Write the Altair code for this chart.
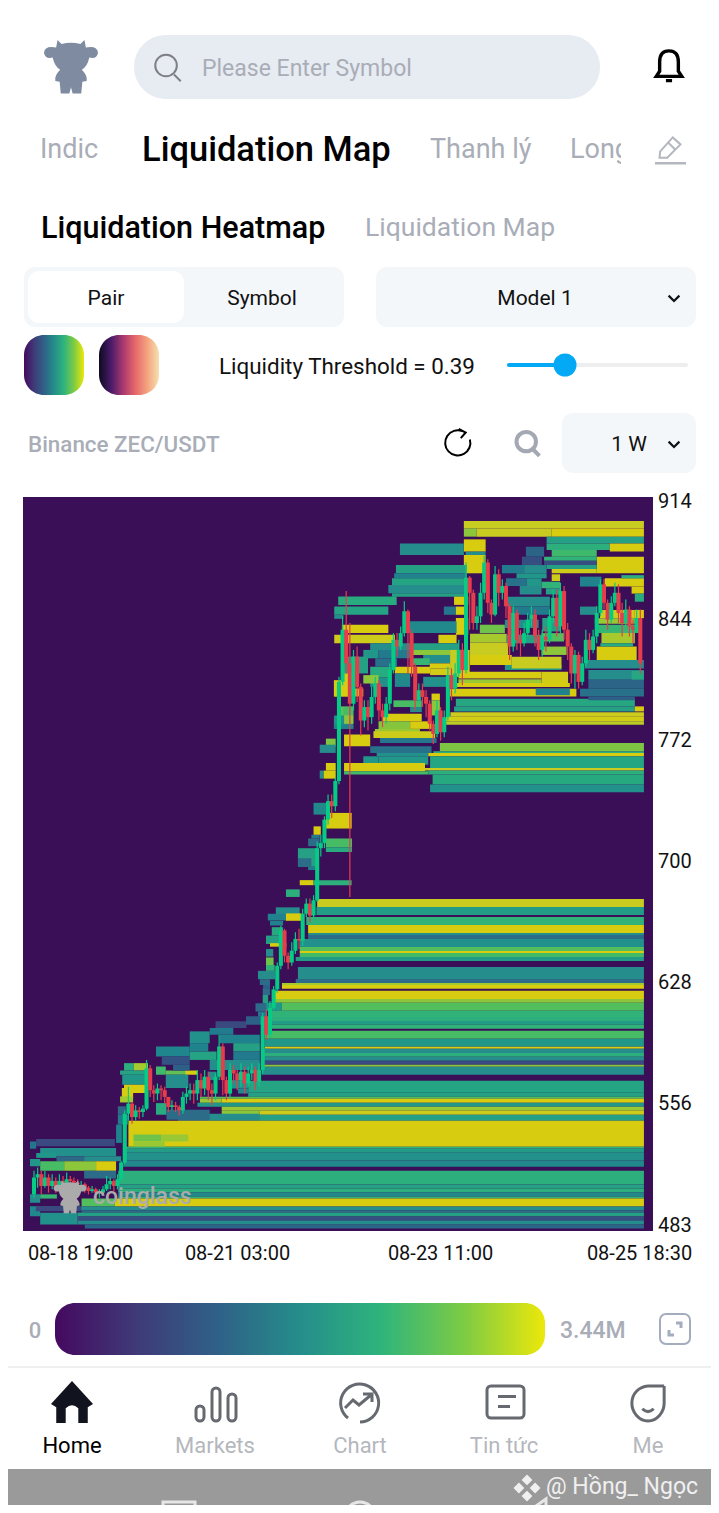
import altair as alt
import pandas as pd

# ---------------- data: candles (hour since 08-18 19:00, price) ----------------
closes = [512,514,507,512,507,510,506,510,508,511,510,509,508,508,506,504,505,503,503,505,508,510,507,511,
          521,550,556,548,552,551,553,577,564,562,565,564,560,554,555,554,552,560,562,564,562,570,565,572,
          564,562,572,590,570,562,576,574,570,575,568,574,576,569,576,608,597,613,624,638,659,644,640,647,
          654,653,669,675,668,677,708,711,725,736,733,748,807,838,818,794,822,804,784,792,786,798,806,790,
          786,794,814,832,828,836,849,836,816,796,802,798,794,782,776,790,777,786,811,803,812,826,814,869,
          860,842,846,860,878,854,847,871,860,864,852,828,848,832,830,836,844,847,834,826,834,832,846,857,
          840,861,838,828,812,823,807,818,832,826,834,848,865,854,844,854,860,848,842,850,840,838,845,818]
highs = [516,518,516,516,514,514,512,514,513,515,513,512,511,510,509,507,507,506,505,507,513,512,511,514,
         522,552,566,557,555,554,555,582,579,567,568,567,566,560,558,557,555,563,566,568,568,576,574,576,
         575,568,574,597,592,572,580,579,576,580,578,578,580,578,580,610,612,617,626,640,662,660,646,652,
         658,660,672,678,678,680,712,716,727,740,740,750,810,846,861,842,826,828,806,796,796,804,810,808,
         794,798,818,836,836,840,855,850,838,818,806,806,802,796,784,796,792,790,816,815,818,832,830,878,
         870,862,852,866,882,880,856,876,874,868,866,854,852,850,838,842,848,852,850,838,838,840,850,862,
         862,866,864,842,830,826,825,822,838,836,838,852,868,868,856,858,866,865,854,856,852,844,850,850]
lows = [500,506,502,506,503,505,503,506,505,507,507,506,505,505,503,502,503,501,500,502,504,505,504,505,
        510,520,546,544,546,547,548,552,560,557,558,558,556,551,552,551,549,550,556,558,556,558,560,561,
        558,555,558,570,561,558,560,568,564,566,562,566,570,564,566,574,594,595,612,622,636,640,636,638,
        645,648,650,667,664,666,676,703,708,722,726,730,746,805,812,679,790,795,775,780,778,782,794,784,
        780,782,790,812,822,826,834,812,810,790,794,792,786,778,770,774,772,774,784,796,800,810,805,812,
        838,838,838,842,856,848,842,846,852,856,845,820,825,826,822,828,834,840,828,820,822,825,830,842,
        834,836,832,820,806,803,803,805,816,820,824,830,846,850,838,842,852,842,834,840,834,830,836,812]

# ---------------- data: liquidity bands (start h, end h, low, high, level) ----------------
background = [(-3.03, 170.5, 480.2, 917, 0)]

lower_bands = [
 (78,168,673,677.7,.95),(77.8,168,668.2,673,.58),(75,168,662.3,667,.7),(75.5,168,657.5,662.3,1),
 (75.5,168,656.3,657.5,.5),(75.5,168,654,656.3,.36),(73.2,168,649.2,654,.52),(73.2,168,646.8,649.2,.78),
 (73.2,168,645.6,646.8,1),(73.2,168,643.3,645.6,.75),(72.1,168,640.9,643.3,.58),(72.7,168,630.2,637.3,.5),
 (72.1,168,627.8,630.2,.36),(68.3,168,626.6,627.8,.9),(68.3,168,624.3,626.6,1),(66,168,618.3,623.1,1),
 (66,168,616,618.3,.86),(68.3,168,611.2,616,.78),(63.5,68.3,611.2,616,.55),(65,168,607.6,611.2,.7),
 (65,168,605.2,607.6,.68),(65,168,602.9,605.2,.58),(65,168,600.5,602.9,.7),(63.6,168,594.6,599.3,.76),
 (63.6,168,589.8,594.6,.55),(63.6,168,588.6,589.8,1),(62.7,168,586.2,588.6,.5),(62.7,168,583.9,586.2,.68),
 (62.7,168,581.5,583.9,.5),(62.7,168,579.1,581.5,.2),(62.7,168,577.9,579.1,.86),(62.7,168,573.2,577.9,.5),
 (59,168,562.5,569.6,.62),(59,168,560.1,562.5,.6),(45.7,168,558.9,560.1,.78),(51.7,168,556.5,558.9,1),
 (45.7,51.7,556.5,558.9,.88),(45,168,554.2,556.5,.55),(51.7,168,551.8,554.2,.88),(62.2,168,549.4,551.8,.97),
 (51.7,62.2,549.4,551.8,.86),(39.7,48,545.8,550,.36),(48,62,545.8,550,.5),(62,168,545.8,549.4,.6),
 (26,168,530.4,545.8,1),(27.4,35,533.5,537.6,.82),(35,42.5,533.5,537.6,.88),(27.4,36,530.4,533.5,.88),
 (24.6,168,529.2,530.4,.7),(24.6,168,526.8,529.2,.58),(24.6,168,522.1,526.8,.52),(24.6,168,518.5,522.1,.48),
 (23.2,168,507.8,516.1,.68),(23.2,168,505.5,507.8,.6),(23.2,168,503.1,505.5,.68),(23.2,168,500.7,503.1,.48),
 (23.2,168,499.5,500.7,.7),(22.3,168,494.8,499.5,1),(13.1,22.3,494.8,499.5,.78),(1.7,168,492.4,494.8,.5),
 (13.1,168,491.2,492.4,.36),(12,168,488.8,491.2,.6),(12,168,486.4,488.8,.22),(1.7,12,484,491,.52),
 (12,168,484.1,486.4,.5),(14,168,481.7,484.1,.33),
 (-1.1,1.7,497,502,.5),(1.7,6.3,499.5,502,.72),(-1.1,1.7,489,495,.48),(0.5,13,492,495,.2),
 (0.6,22.3,530.6,535,.2),(-1.1,.6,529.2,533.5,.4),(1.7,22.6,524.7,529.6,.52),(0.6,6.2,523.7,526.6,.55),
 (6.2,13.8,521.7,524.7,.34),(13.8,24,521.7,524.7,.5),(-1.1,1.7,518.7,523,.55),(1.7,8.3,516,521.7,.76),
 (8.3,17.1,516,521.7,.86),(17.1,22.6,516,521.7,1),(13.8,22.6,511.4,516.1,.36),
]

left_bands = [
 (24.8,27.5,575.7,580.1,.68),(27.5,31.4,575.7,580.1,.9),(23.7,31.4,573.2,575.7,.62),(24.3,31,567.2,573.2,.55),
 (24.8,31,562.3,567.2,1),(24.2,27.3,559.3,565.3,1),(23.7,27.3,556.7,560.3,.9),(23.1,25.3,549.4,554.4,.35),
 (23.1,26,543.5,549.4,.42),(22.6,24.2,532.6,543.5,.45),(33.6,36.5,549.4,556.3,.66),(36.5,48.4,546.4,552.4,.36),
 (33.6,36.3,573.2,578.1,.74),(36.3,42,573.2,575.7,.8),(41.7,45.1,573.2,575.7,1),(36.3,42.5,565.3,573.2,.5),
 (33.6,42.9,584,590,.47),(35.2,42.9,579.1,584,.24),(38.3,42.9,575.7,579.1,.3),(42.9,48.4,592,599,.52),
 (42.9,50.3,582,587,.62),(42.9,48,587,592,.45),(48.4,62.2,576,582,.5),(50,58.5,601,605,.2),
 (58.4,63.1,603,608,.3),(48.4,54.9,597,601,.42),(51.2,62.2,592,597,.45),(54.9,62.2,587,592,.6),
 (54.9,62.2,582,587,.42),(48,50.3,570,575,.5),(53.9,59,565,570,.52),(56.2,59,562,565,.48),
]

stair_bands = [
 (69.4,73.2,679,683.5,.68),(66.6,73.2,668,672.8,.5),(64.4,69.5,665,669,.45),(69.4,73.7,664.8,669.2,1),
 (65,68.6,662,664.8,.45),(65.5,68.6,656,661,.65),(63.9,68.6,651,656,.6),(65,69.5,649.4,651.5,1),
 (63.9,65.9,643.5,648,.5),(63.9,66,638.5,643,.82),(63.9,66.3,635,638.5,.7),(61.7,66.4,630,635,.5),
 (62.2,65,626.6,630,.36),(63.1,65,624.6,626.6,.3),(63,65,620.7,624.6,.36),(63,64.5,615.7,620.7,.6),
 (61,64,610.8,615.7,.36),(61.7,64,607.8,610.8,.4),
 (73.2,77,686,689,1),(77,87.5,686,689,.68),(75.5,77.8,695,697,.42),(72.7,77.8,697,708,.6),(72.7,76.4,697,702,.36),
 (80.4,87.6,708.5,713.8,.76),(80.4,87.6,705.7,708.5,.66),(75.5,78.7,709.2,713.8,.36),(76.4,78.7,713.8,716,.42),
 (77,79,716,721,1),(80.4,87.5,719.7,729,1),(77,81.5,728,735,.48),(78.7,79.8,749.4,754.2,.5),(79.8,83.1,749.4,754.2,1),
 (80.4,83.1,754.2,758.7,1),(80.4,83.1,768.6,773.2,.84),(78.7,83.1,764.7,769.6,.5),
 (82.6,87.9,779,786.5,.5),(84.2,87.9,786.5,792.4,.8),(82.6,87,798.3,808,1),
]

upper_bands = [
 (118.4,168,898.3,902.7,.95),(118.4,121.9,893.4,898.3,.86),(121.9,142.6,893.4,898.3,.95),(142.6,168,893.4,898.3,1),
 (141.2,168,889.4,893.4,.6),(118.4,124.4,884.5,891.8,1),(118.9,124.4,882.5,884.5,.5),(118.4,124.4,871.6,882.5,1),
 (100.8,118.4,882.5,889.4,.5),(141.2,158.6,885.5,889.4,.68),(158.6,168,884.5,889.4,1),(142.6,155,881.5,885.5,.74),
 (155,168,871.6,881.5,1),(140.5,155,879,881.5,.7),(140.5,155,876.5,879,.22),(141.2,155,874.2,876.5,.6),
 (142.6,155,871.6,874.2,.97),(135.5,140.5,881.5,887.4,.32),(134.4,139.9,876.5,881.5,.22),(128.9,135,871.6,876.5,.42),
 (135,141.2,871.6,876.5,.5),(132.9,141.2,868.6,871.6,.55),(130,135.7,864,868.6,.38),(135.7,139.8,864,868.6,.55),
 (133.8,139.8,859,864,.5),(142.6,144.9,867,871,.97),(139.8,144.9,862.7,866.6,.7),(141,145,859,862.7,.6),
 (99.7,119.2,871.6,876.5,.6),(99.2,119.2,868.6,871.6,.45),(98.6,119.6,864.7,868.6,.62),(97.6,119.2,859.7,864.7,.5),
 (98.6,119.2,857.7,859.7,.6),(83.8,99.9,852.8,857.8,.66),(115.7,119.6,852.8,857.7,1),(82.7,97.6,846.9,851.8,.62),
 (82.7,85.2,844.5,846.9,.5),(112.9,116.2,846.9,851.8,.4),(116.2,119.2,846.9,851.8,1),(116.2,119.6,835,845,1),
 (103.1,116.4,836,843,.48),(84.8,97.6,836,841,1),(82.7,99.4,830,835,.97),(111.4,116.4,830,835,1),
 (92.6,104,826,830,.5),(104,116.9,826,830,.6),(90.7,94.9,821,826,.55),(94.9,104,821,826,.42),
 (104,114.6,823,826,.86),(107.2,114.6,818,823,.5),(114.6,120,810,826,.95),(104,109,817,821,.72),
 (109,114.6,815,818,1),(92.6,98.5,809.5,816,.66),(99.4,109.1,812,816,1),(109.1,114.6,811,815,.98),
 (92.6,98.5,804,809.5,.52),(99.4,103.6,804,812,.48),(107.2,113.6,804,810,.52),(85,88,809,813,0),(84.8,88,806,813,1),
 (90.7,94.9,806,811,.86),(82.7,90.7,798.3,803,1),(85,88,803,806,.98),(85.2,88,787,792,.76),
 (94,100,816,821,.38),(85.4,92,812,822,.6),
 (99,106.8,792,796,.76),(103.6,106.8,789,792,.5),(95.8,106.8,783.5,788,1),(85.4,88,782,787,.86),
 (82.7,85.4,781,787,.5),(82.7,88,779,781.5,.45),(109.5,111.8,796,800,1),(109.5,111.8,787,796,.86),
 (94.9,103.6,779,783.5,.85),(103.6,109.5,779,783.5,1),(93.9,106.3,775.6,779,.88),(85.4,92.6,768.6,775.6,1),
 (93.5,110.5,773.6,777.6,.97),(95.3,110.9,770.6,773.6,.4),(92.6,109.5,764.7,768.6,.38),(94.4,108.6,762.7,764.7,.52),
 (90.7,94.9,757.7,762.7,.55),(94.9,108.6,757.7,762.7,.55),(85.4,107.7,753.8,758.7,1),(85.4,108.6,751.8,753.8,.75),
 (111.8,168,765.7,770.6,.84),(110,168,764.7,765.7,.68),(108.6,168,762.7,764.7,1),(109.1,168,755.8,762.7,.63),
 (107.4,168,754.2,755.8,.96),(108.6,168,751.8,754.2,.68),(109.8,168,745.9,751.8,.65),(109.1,168,741.3,745.9,.52),
 (116.2,165.5,792.4,797,.64),(115.7,165.5,789.4,792.4,.6),(165.5,168,789.4,792.4,1),(114.7,168,786.5,788.9,.96),
 (113.5,168,783.5,786.5,.98),(113.5,168,781.5,783.5,.93),(115,147.6,803.9,806.3,1),(114.6,149.4,798.3,802.9,1),
 (138.2,147.6,799,803,.45),(116.9,139.8,806.3,808.5,.88),(116.9,139.8,809,813,1),(139.8,147.1,806,813,.98),
 (129.7,145.3,814,817,.55),(120.1,131.6,817,823,1),(131.6,145.3,815,822,.95),(120.1,130.6,823,830.4,.95),
 (139.8,146.7,823,828,.86),(120.1,130.2,830.4,835.6,.9),(130.2,140,830,835,.6),(122.8,129.7,836,841,.82),
 (129.7,139,839,844,.5),(139.8,146,831,836,.78),(140,145,837,845,.6),
 (130.2,142.1,851.8,857.7,.5),(131.6,142.1,846.9,851.8,.42),
]

right_bands = [
 (150.4,156.3,863.7,869.6,.45),(157.2,168,863.7,868.6,1),(164.6,168,859.5,863.7,1),(165.5,168,854.7,859.5,.66),
 (161.8,168,868.6,870.5,.68),(150.4,155,846.9,851.8,.5),(155.9,165.5,844.9,849.8,.97),(165.5,168,844.9,849.8,1),
 (154.5,165.5,841.5,844.9,.88),(155,166.9,836,841,.72),(156.3,165.5,830,836,.9),(155,166,820,828,1),
 (156,165,828,830,.66),(151.7,168,815,820,.5),(152.7,168,808.2,814,.5),(164.6,168,808.2,813.5,.64),
 (152.7,168,802.9,808.2,.32),(150.4,168,798.3,802.9,.38),(152.7,165.5,796,798.3,.3),
]

# ---------------- data: labels ----------------
price_ticks = [914, 844, 772, 700, 628, 556, 483]
time_labels = ["08-18 19:00", "08-21 03:00", "08-23 11:00", "08-25 18:30"]
nav_labels = ["Home", "Markets", "Chart", "Tin tức", "Me"]
legend_max = "3.44M"
threshold = "Liquidity Threshold = 0.39"
pair_name = "Binance ZEC/USDT"

level_domain = [0, .2, .35, .5, .6, .7, .78, .86, .95, 1]
level_colors = ["#3b0f58", "#3a4a80", "#2e6a87", "#258d8b", "#25a085", "#31b279", "#52bf5c", "#8cc63a", "#c8cc20", "#d8cc10"]
viridis_stops = ["#45095f", "#3f3a78", "#2f6187", "#258d8b", "#2fb47c", "#7ccb44", "#ece80a"]
magma_stops = ["#0d0b20", "#4a1a6a", "#a8386f", "#e4666a", "#f4a27e", "#f7e0b0"]

FONT = "Roboto"
GREY = "#a9adb7"
X_RANGE = alt.Scale(domain=[-3.03, 170.5], range=[15, 645])
Y_RANGE = alt.Scale(domain=[480.2, 917], range=[1223, 489])

bands = pd.DataFrame(background + lower_bands + left_bands + stair_bands + upper_bands + right_bands,
                     columns=["start", "end", "low", "high", "level"])
bands["order"] = range(len(bands))
opens = [502] + closes[:-1]
candles = pd.DataFrame({"hour": range(len(closes)), "open": opens, "close": closes, "high": highs, "low": lows})
candles["left"] = candles["hour"] - 0.56
candles["right"] = candles["hour"] + 0.56
candles["up"] = candles["close"] >= candles["open"]
one = pd.DataFrame({"v": [0]})

layers = []


def box(x0, y0, x1, y1, fill=None, radius=0, stroke=None, sw=1):
    kw = {"cornerRadius": radius}
    if fill is not None:
        kw["color"] = fill
    else:
        kw["fillOpacity"] = 0
    if stroke:
        kw["stroke"] = stroke
        kw["strokeWidth"] = sw
    layers.append(alt.Chart(one).mark_rect(**kw).encode(
        x=alt.value(x0 - 8), x2=alt.value(x1 - 8), y=alt.value(y0 - 8), y2=alt.value(y1 - 8)))


def label(t, x, y, size, color="#000000", align="left", weight=400):
    layers.append(alt.Chart(one).mark_text(text=t, font=FONT, fontSize=size, color=color, align=align,
                                           baseline="middle", fontWeight=weight).encode(
        x=alt.value(x - 8), y=alt.value(y - 8)))


def icon(path, x, y, w, fill=None, stroke=None, sw=2):
    kw = {"shape": path, "size": w * w, "opacity": 1}
    if fill:
        kw.update(filled=True, fill=fill)
        if stroke:
            kw.update(stroke=stroke, strokeWidth=sw)
    else:
        kw.update(filled=False, stroke=stroke, strokeWidth=sw)
    layers.append(alt.Chart(one).mark_point(**kw).encode(x=alt.value(x - 8), y=alt.value(y - 8)))


def grad(colors):
    n = len(colors) - 1
    return alt.LinearGradient(gradient="linear", x1=0, x2=1, y1=0, y2=0,
                              stops=[alt.GradientStop(color=c, offset=i / n) for i, c in enumerate(colors)])


COW = ("M-0.5,-1 L-0.35,-0.85 Q0,-0.95 0.35,-0.85 L0.5,-1 L0.55,-0.72 Q0.98,-0.8 1,-0.52 Q0.95,-0.28 0.68,-0.35 "
       "Q0.6,0 0.4,0.1 Q0.62,0.3 0.58,0.52 L0.42,0.55 L0.38,0.98 L0.06,0.98 L0,0.75 L-0.06,0.98 L-0.38,0.98 "
       "L-0.42,0.55 L-0.58,0.52 Q-0.62,0.3 -0.4,0.1 Q-0.6,0 -0.68,-0.35 Q-0.95,-0.28 -1,-0.52 Q-0.98,-0.8 -0.55,-0.72 Z")
SEARCH = "M-0.85,-0.1 A0.72,0.72 0 1 1 0.59,-0.1 A0.72,0.72 0 1 1 -0.85,-0.1 M0.4,0.5 L0.85,0.95"
BELL = ("M-0.75,0.55 L-0.55,0.25 L-0.55,-0.3 Q-0.55,-0.95 0,-0.95 Q0.55,-0.95 0.55,-0.3 L0.55,0.25 L0.75,0.55 Z "
        "M-0.18,0.8 L0.18,0.8")
PENCIL = "M-0.75,0.55 L-0.7,0.1 L0.2,-0.9 L0.75,-0.4 L-0.2,0.55 Z M-0.1,-0.5 L0.4,0"
CHEVRON = "M-0.9,-0.4 L0,0.5 L0.9,-0.4"
REFRESH = "M0.3,-0.85 A0.9,0.9 0 1 0 0.85,-0.25 M0.05,-1 L0.55,-0.75 L0.2,-0.35"
HOME = "M0,-1 L1,0.1 L0.75,0.25 L0.75,1 L0.3,1 L0.3,0.3 Q0,0 -0.3,0.3 L-0.3,1 L-0.75,1 L-0.75,0.25 L-1,0.1 Z"
CHART = ("M-0.6,0.75 A0.95,0.95 0 1 1 0,0.95 M-0.75,0.25 L-0.35,-0.15 L-0.05,0.1 L0.55,-0.4 "
         "M0.15,-0.45 L0.6,-0.45 L0.6,-0.05")
ME = "M0.85,-0.9 L0,-0.9 A0.9,0.9 0 0 0 -0.85,0 A0.9,0.95 0 0 0 0,0.95 A0.9,0.95 0 0 0 0.85,0 L0.85,-0.9 M-0.3,0.3 Q0,0.6 0.3,0.3"
DIAMOND = "M0,-1 L0.4,-0.6 L0,-0.2 L-0.4,-0.6 Z M0,0.2 L0.4,0.6 L0,1 L-0.4,0.6 Z M-0.6,-0.4 L-0.2,0 L-0.6,0.4 L-1,0 Z M0.6,-0.4 L1,0 L0.6,0.4 L0.2,0 Z"
EXPAND = "M0.1,-0.6 L0.6,-0.6 L0.6,-0.1 M-0.6,0.1 L-0.6,0.6 L-0.1,0.6"

# --- heat map and candles, drawn through the price and time scales
color = alt.Color("level:Q", legend=None, scale=alt.Scale(domain=level_domain, range=level_colors))
heat = alt.Chart(bands).mark_rect().encode(
    x=alt.X("start:Q", scale=X_RANGE, axis=None), x2="end:Q",
    y=alt.Y("low:Q", scale=Y_RANGE, axis=None), y2="high:Q",
    color=color, order="order:Q")
candle_color = alt.Color("up:N", legend=None, scale=alt.Scale(domain=[True, False], range=["#05cc85", "#e63d4c"]))
wicks = alt.Chart(candles).mark_rule(strokeWidth=1.2).encode(
    x=alt.X("hour:Q", scale=X_RANGE, axis=None), y=alt.Y("low:Q", scale=Y_RANGE, axis=None), y2="high:Q",
    color=candle_color)
bodies = alt.Chart(candles).mark_rect().encode(
    x=alt.X("left:Q", scale=X_RANGE, axis=None), x2="right:Q",
    y=alt.Y("open:Q", scale=Y_RANGE, axis=None), y2="close:Q", color=candle_color)
layers += [heat, wicks, bodies]

ticks = pd.DataFrame({"price": price_ticks})
layers.append(alt.Chart(ticks).mark_text(font=FONT, fontSize=20, align="left", baseline="middle", color="#111111").encode(
    x=alt.value(658 - 8), y=alt.Y("price:Q", scale=Y_RANGE, axis=None), text="price:Q"))

# --- watermark
icon(COW, 70, 1197, 33, fill="#ababab")
label("coinglass", 93, 1197, 23, "#ababab", weight=500)

# --- header
icon(COW, 71, 67, 54, fill="#7f8ba0")
box(134, 35, 600, 99, "#e7ebf2", 32)
icon(SEARCH, 168, 67, 30, stroke="#7d7f84", sw=2)
label("Please Enter Symbol", 202, 69, 23, GREY)
icon(BELL, 669, 67, 34, stroke="#000000", sw=3.4)
label("Indic", 40, 150, 27, GREY)
label("Liquidation Map", 142, 151, 34.5, "#000000", weight=500)
label("Thanh lý", 430, 150, 27, GREY)
label("Long", 570, 150, 27, GREY)
box(621, 130, 650, 172, "#ffffff")
icon(PENCIL, 670, 150, 28, stroke="#b4b7bf", sw=2)
box(655, 162, 686, 164.5, "#b4b7bf")
label("Liquidation Heatmap", 41, 229, 30.5, "#000000", weight=500)
label("Liquidation Map", 365, 228, 26.5, GREY)

# --- controls
box(24, 267, 344, 327, "#f4f7fa", 11)
box(28, 271, 184, 323, "#ffffff", 11)
label("Pair", 106, 299, 21, "#111111", "center")
label("Symbol", 262, 299, 21, "#111111", "center")
box(376, 267, 696, 327, "#f4f7fa", 11)
label("Model 1", 535, 299, 21, "#111111", "center")
icon(CHEVRON, 674, 298, 12, stroke="#111111", sw=2.2)
box(24, 335, 84, 395, grad(viridis_stops), 20)
box(99, 335, 159, 395, grad(magma_stops), 20)
label(threshold, 219, 367, 22.4, "#111111")
box(507, 363, 688, 367, "#eeeeee", 2)
box(507, 363, 565, 367, "#03a9f4", 2)
layers.append(alt.Chart(one).mark_circle(size=530, color="#03a9f4", opacity=1).encode(x=alt.value(565 - 8), y=alt.value(365 - 8)))
label(pair_name, 28, 445, 22.4, GREY, weight=500)
icon(REFRESH, 458, 443, 28, stroke="#000000", sw=2)
icon(SEARCH, 528, 443, 27, stroke="#a3a8b3", sw=4)
box(562, 413, 696, 473, "#f4f7fa", 11)
label("1 W", 629, 445, 21, "#111111", "center")
icon(CHEVRON, 674, 444, 12, stroke="#111111", sw=2.2)

# --- time axis labels
for t, x in zip(time_labels, [80.5, 237.5, 440.5, 639.5]):
    label(t, x, 1254, 20, "#111111", "center")

# --- colour legend
label("0", 35, 1331, 22, GREY, "center", 500)
box(55, 1303, 545, 1355, grad(viridis_stops), 20)
label(legend_max, 560, 1331, 23, GREY, weight=500)
box(660, 1314, 690, 1344, None, 6, "#a4adbd", 2)
icon(EXPAND, 675, 1329, 20, stroke="#a4adbd", sw=3)

# --- bottom navigation
box(8, 1366.5, 711, 1367.5, "#e0e0e0")
icon(HOME, 72, 1402, 42, fill="#11131e")
box(196, 1406, 204, 1421, None, 4, "#666a70", 3)
box(212, 1388, 220, 1421, None, 4, "#666a70", 3)
box(228, 1394, 236, 1421, None, 4, "#666a70", 3)
icon(CHART, 360, 1403, 40, stroke="#666a70", sw=3)
box(487, 1386, 524, 1418, None, 4, "#666a70", 3)
box(498, 1395, 516, 1398, "#666a70")
box(498, 1405, 510, 1408, "#666a70")
icon(ME, 648, 1403, 38, stroke="#666a70", sw=3)
for t, x, c in zip(nav_labels, [72, 215, 360, 504, 648], ["#000000", "#b4b7bd", "#b4b7bd", "#b4b7bd", "#b4b7bd"]):
    label(t, x, 1446, 22, c, "center")

# --- system bar
box(8, 1469, 711, 1505, "#9a9a9a")
box(163, 1502, 195, 1510, None, 0, "#e6e6e6", 3)
layers.append(alt.Chart(one).mark_circle(size=900, opacity=1, fillOpacity=0, stroke="#e6e6e6", strokeWidth=3).encode(
    x=alt.value(360 - 8), y=alt.value(1517 - 8)))
icon("M1,-1 L1,1 L-1,0.4 Z", 532, 1513, 28, stroke="#e6e6e6", sw=3)
icon(DIAMOND, 527, 1488, 27, fill="#f0f0f0")
label("@ Hồng_ Ngọc", 546, 1487, 23, "#f0f0f0")

chart = alt.layer(*layers).properties(
    width=703, height=1497, padding=0, autosize=alt.AutoSizeParams(type="none"),
    background="#ffffff", view=alt.ViewConfig(stroke=None)
).resolve_scale(color="independent")

chart.save("out.html", embed_options={"renderer": "svg", "actions": False})
